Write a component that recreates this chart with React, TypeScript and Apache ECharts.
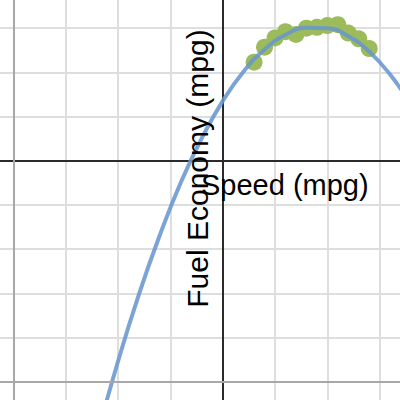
import { useEffect, useRef } from 'react';
import * as echarts from 'echarts';

// scatter observations (speed, fuel economy)
const speeds = [15, 20, 25, 30, 35, 40, 45, 50, 55, 60, 65, 70];
const economy = [22.3, 25.7, 27.8, 29.2, 28.6, 30.0, 30.2, 30.6, 30.8, 28.9, 27.6, 25.4];

// fitted curve
const fitSpeeds = [-60, -50, -40, -30, -20, -10, 0, 10, 20, 30, 40, 50, 60, 70, 80, 90];
const fitEconomy = [-62.2, -45.4, -30.2, -16.8, -4.9, 5.1, 13.5, 20.2, 25.2, 28.5, 30.1, 30.0, 28.2, 24.7, 19.5, 12.7];

// darker major grid lines
const majorX = [-100];
const majorY = [-50];

const xTitle = 'Speed (mpg)';
const yTitle = 'Fuel Economy (mpg)';

// the plot area is bigger than the window and shifted so that the
// visible part starts mid-cell, like a panned graph
const OFFSET_X = -39;
const OFFSET_Y = -16;

export default function App() {
  const chartRef = useRef<HTMLDivElement>(null);

  useEffect(() => {
    if (!chartRef.current) return;
    const chart = echarts.init(chartRef.current, null, { renderer: 'svg' });

    const font = '"Liberation Sans", Arial, sans-serif';

    const option = {
      animation: false,
      backgroundColor: '#fff',
      grid: { left: 0, right: 0, top: 0, bottom: 0, containLabel: false },
      xAxis: {
        type: 'value',
        min: -125,
        max: 100,
        interval: 25,
        axisLine: { show: true, onZero: true, lineStyle: { color: '#2b2b2b', width: 2 } },
        axisTick: { show: false },
        axisLabel: { show: false },
        splitLine: { show: true, lineStyle: { color: '#dedede', width: 2 } },
      },
      yAxis: {
        type: 'value',
        min: -60,
        max: 40,
        interval: 10,
        axisLine: { show: true, onZero: true, lineStyle: { color: '#2b2b2b', width: 2 } },
        axisTick: { show: false },
        axisLabel: { show: false },
        splitLine: { show: true, lineStyle: { color: '#dedede', width: 2 } },
      },
      series: [
        {
          type: 'scatter',
          z: 2,
          symbolSize: 17,
          itemStyle: { color: '#9cbb5a', opacity: 1 },
          data: speeds.map((s, i) => [s, economy[i]]),
          markLine: {
            silent: true,
            symbol: 'none',
            label: { show: false },
            lineStyle: { color: '#a8a8a8', width: 2, type: 'solid' },
            data: [...majorX.map((v) => ({ xAxis: v })), ...majorY.map((v) => ({ yAxis: v }))],
          },
        },
        {
          type: 'line',
          z: 3,
          smooth: true,
          showSymbol: false,
          lineStyle: { color: '#6a96cf', width: 4, opacity: 0.88 },
          data: fitSpeeds.map((s, i) => [s, fitEconomy[i]]),
        },
      ],
      graphic: [
        {
          type: 'text',
          z: 100,
          x: 201 - OFFSET_X,
          y: 185 - OFFSET_Y,
          style: {
            text: xTitle,
            font: `29px ${font}`,
            fill: '#000',
            align: 'left',
            verticalAlign: 'middle',
          },
        },
        {
          type: 'text',
          z: 100,
          x: 197.5 - OFFSET_X,
          y: 168.5 - OFFSET_Y,
          rotation: Math.PI / 2,
          style: {
            text: yTitle,
            font: `30px ${font}`,
            fill: '#000',
            align: 'center',
            verticalAlign: 'middle',
          },
        },
      ],
    };

    chart.setOption(option);

    return () => {
      chart.dispose();
    };
  }, []);

  return (
    <div
      style={{
        position: 'fixed',
        left: 0,
        top: 0,
        width: 400,
        height: 400,
        overflow: 'hidden',
        background: '#fff',
      }}
    >
      <div
        ref={chartRef}
        style={{ position: 'absolute', left: OFFSET_X, top: OFFSET_Y, width: 471, height: 442 }}
      />
    </div>
  );
}
